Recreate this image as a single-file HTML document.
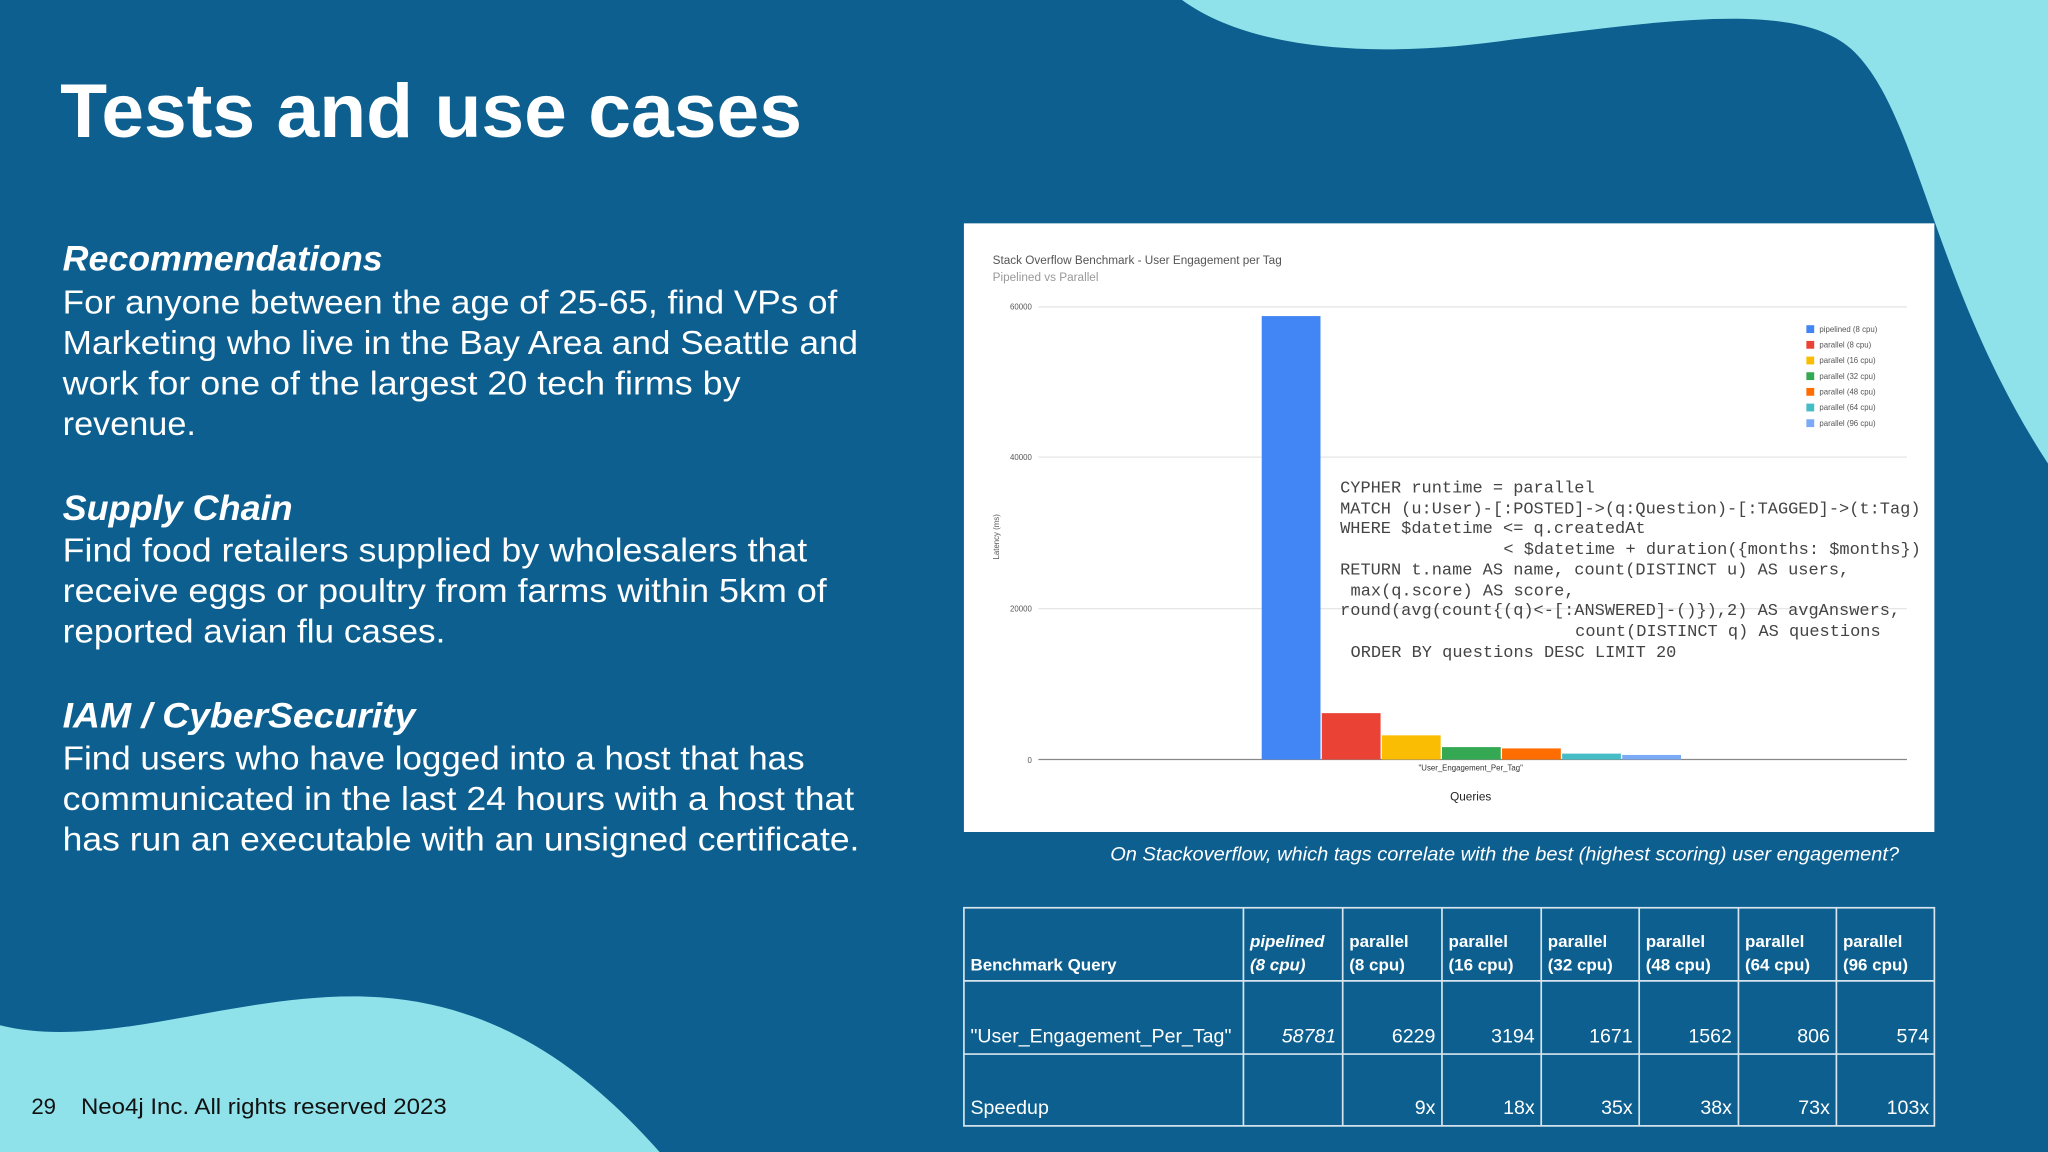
<!DOCTYPE html>
<html><head><meta charset="utf-8"><style>
html,body{margin:0;padding:0;background:#0b5f8f;}
svg{display:block}
.code text{white-space:pre}
</style></head><body>
<svg width="2048" height="1152" viewBox="0 0 1568 882" xmlns="http://www.w3.org/2000/svg" font-family="Liberation Sans, sans-serif">
<rect width="1568" height="882" fill="#0c5f8f"/>
<path d="M905,0 C960,40 1060,45 1160,30 C1280,15 1380,0 1420,40 C1470,90 1480,220 1568,355 L1568,0 Z" fill="#8fe2ea"/>
<path d="M0,785 C80,805 180,760 280,763 C380,766 450,820 505,882 L0,882 Z" fill="#8fe2ea"/>
<text x="46" y="105" font-size="58" font-weight="bold" fill="#fff" textLength="568" lengthAdjust="spacingAndGlyphs">Tests and use cases</text>
<g fill="#fff" font-size="25.5" lengthAdjust="spacingAndGlyphs">
<text x="48" y="207" font-weight="bold" font-style="italic" font-size="27" textLength="245" lengthAdjust="spacingAndGlyphs">Recommendations</text>
<text x="48" y="240" textLength="593" lengthAdjust="spacingAndGlyphs">For anyone between the age of 25-65, find VPs of</text>
<text x="48" y="271" textLength="609" lengthAdjust="spacingAndGlyphs">Marketing who live in the Bay Area and Seattle and</text>
<text x="48" y="302" textLength="519" lengthAdjust="spacingAndGlyphs">work for one of the largest 20 tech firms by</text>
<text x="48" y="333" textLength="102" lengthAdjust="spacingAndGlyphs">revenue.</text>
<text x="48" y="398" font-weight="bold" font-style="italic" font-size="27" textLength="176" lengthAdjust="spacingAndGlyphs">Supply Chain</text>
<text x="48" y="430" textLength="570" lengthAdjust="spacingAndGlyphs">Find food retailers supplied by wholesalers that</text>
<text x="48" y="461" textLength="585" lengthAdjust="spacingAndGlyphs">receive eggs or poultry from farms within 5km of</text>
<text x="48" y="492" textLength="293" lengthAdjust="spacingAndGlyphs">reported avian flu cases.</text>
<text x="48" y="557" font-weight="bold" font-style="italic" font-size="27" textLength="270" lengthAdjust="spacingAndGlyphs">IAM / CyberSecurity</text>
<text x="48" y="589" textLength="568" lengthAdjust="spacingAndGlyphs">Find users who have logged into a host that has</text>
<text x="48" y="620" textLength="606" lengthAdjust="spacingAndGlyphs">communicated in the last 24 hours with a host that</text>
<text x="48" y="651" textLength="610" lengthAdjust="spacingAndGlyphs">has run an executable with an unsigned certificate.</text>
</g>
<text x="24" y="853" font-size="17" fill="#111">29</text>
<text x="62" y="853" font-size="17" fill="#111" textLength="280" lengthAdjust="spacingAndGlyphs">Neo4j Inc. All rights reserved 2023</text>
<!-- chart -->
<rect x="738" y="171" width="743" height="466" fill="#fff"/>
<text x="760" y="202" font-size="9" fill="#555">Stack Overflow Benchmark - User Engagement per Tag</text>
<text x="760" y="215" font-size="9" fill="#999">Pipelined vs Parallel</text>
<g stroke="#e6e6e6" stroke-width="1">
<line x1="795" y1="235" x2="1460" y2="235"/><line x1="795" y1="350" x2="1460" y2="350"/><line x1="795" y1="466" x2="1460" y2="466"/>
</g>
<line x1="795" y1="581.5" x2="1460" y2="581.5" stroke="#888"/>
<g font-size="6" fill="#555" text-anchor="end">
<text x="790" y="237">60000</text><text x="790" y="352">40000</text><text x="790" y="468">20000</text><text x="790" y="584">0</text>
</g>
<text transform="translate(765,411) rotate(-90)" font-size="6" fill="#555" text-anchor="middle">Latency (ms)</text>
<rect x="966" y="242" width="45" height="339.5" fill="#4285f4"/>
<rect x="1012" y="546" width="45" height="35.5" fill="#ea4335"/>
<rect x="1058" y="563" width="45" height="18.5" fill="#fbbc04"/>
<rect x="1104" y="572" width="45" height="9.5" fill="#34a853"/>
<rect x="1150" y="573" width="45" height="8.5" fill="#ff6d01"/>
<rect x="1196" y="577" width="45" height="4.5" fill="#46bdc6"/>
<rect x="1242" y="578" width="45" height="3.5" fill="#7baaf7"/>
<text x="1126" y="590" font-size="6" fill="#333" text-anchor="middle">"User_Engagement_Per_Tag"</text>
<text x="1126" y="613" font-size="9" fill="#222" text-anchor="middle">Queries</text>
<g font-size="6" fill="#555">
<rect x="1383" y="249" width="6" height="6" fill="#4285f4"/><text x="1393" y="254">pipelined (8 cpu)</text>
<rect x="1383" y="261" width="6" height="6" fill="#ea4335"/><text x="1393" y="266">parallel (8 cpu)</text>
<rect x="1383" y="273" width="6" height="6" fill="#fbbc04"/><text x="1393" y="278">parallel (16 cpu)</text>
<rect x="1383" y="285" width="6" height="6" fill="#34a853"/><text x="1393" y="290">parallel (32 cpu)</text>
<rect x="1383" y="297" width="6" height="6" fill="#ff6d01"/><text x="1393" y="302">parallel (48 cpu)</text>
<rect x="1383" y="309" width="6" height="6" fill="#46bdc6"/><text x="1393" y="314">parallel (64 cpu)</text>
<rect x="1383" y="321" width="6" height="6" fill="#7baaf7"/><text x="1393" y="326">parallel (96 cpu)</text>
</g>
<g class="code" font-family="Liberation Mono, monospace" font-size="13" fill="#444">
<text x="1026" y="377">CYPHER runtime = parallel</text>
<text x="1026" y="393">MATCH (u:User)-[:POSTED]-&gt;(q:Question)-[:TAGGED]-&gt;(t:Tag)</text>
<text x="1026" y="408">WHERE $datetime &lt;= q.createdAt</text>
<text x="1151" y="424">&lt; $datetime + duration({months: $months})</text>
<text x="1026" y="440">RETURN t.name AS name, count(DISTINCT u) AS users,</text>
<text x="1034" y="456">max(q.score) AS score,</text>
<text x="1026" y="471">round(avg(count{(q)&lt;-[:ANSWERED]-()}),2) AS avgAnswers,</text>
<text x="1206" y="487">count(DISTINCT q) AS questions</text>
<text x="1034" y="503">ORDER BY questions DESC LIMIT 20</text>
</g>
<text x="850" y="659" font-size="14.5" font-style="italic" fill="#fff" textLength="604" lengthAdjust="spacingAndGlyphs">On Stackoverflow, which tags correlate with the best (highest scoring)  user engagement?</text>
<!-- table -->
<g stroke="#d8e4ee" stroke-width="1.3" fill="none">
<rect x="738" y="695" width="743" height="167"/>
<line x1="738" y1="751" x2="1481" y2="751"/><line x1="738" y1="807" x2="1481" y2="807"/>
<line x1="952" y1="695" x2="952" y2="862"/><line x1="1028" y1="695" x2="1028" y2="862"/><line x1="1104" y1="695" x2="1104" y2="862"/><line x1="1180" y1="695" x2="1180" y2="862"/><line x1="1255" y1="695" x2="1255" y2="862"/><line x1="1331" y1="695" x2="1331" y2="862"/><line x1="1406" y1="695" x2="1406" y2="862"/>
</g>
<g fill="#fff" font-size="13" font-weight="bold">
<text x="743" y="743">Benchmark Query</text>
<text x="957" y="725" font-style="italic">pipelined</text><text x="957" y="743" font-style="italic">(8 cpu)</text>
<text x="1033" y="725">parallel</text><text x="1033" y="743">(8 cpu)</text>
<text x="1109" y="725">parallel</text><text x="1109" y="743">(16 cpu)</text>
<text x="1185" y="725">parallel</text><text x="1185" y="743">(32 cpu)</text>
<text x="1260" y="725">parallel</text><text x="1260" y="743">(48 cpu)</text>
<text x="1336" y="725">parallel</text><text x="1336" y="743">(64 cpu)</text>
<text x="1411" y="725">parallel</text><text x="1411" y="743">(96 cpu)</text>
</g>
<g fill="#fff" font-size="15" text-anchor="end">
<text x="743" y="798" text-anchor="start">"User_Engagement_Per_Tag"</text>
<text x="1023" y="798" font-style="italic">58781</text>
<text x="1099" y="798">6229</text><text x="1175" y="798">3194</text><text x="1250" y="798">1671</text><text x="1326" y="798">1562</text><text x="1401" y="798">806</text><text x="1477" y="798">574</text>
<text x="743" y="853" text-anchor="start">Speedup</text>
<text x="1099" y="853">9x</text><text x="1175" y="853">18x</text><text x="1250" y="853">35x</text><text x="1326" y="853">38x</text><text x="1401" y="853">73x</text><text x="1477" y="853">103x</text>
</g>
</svg>
</body></html>
